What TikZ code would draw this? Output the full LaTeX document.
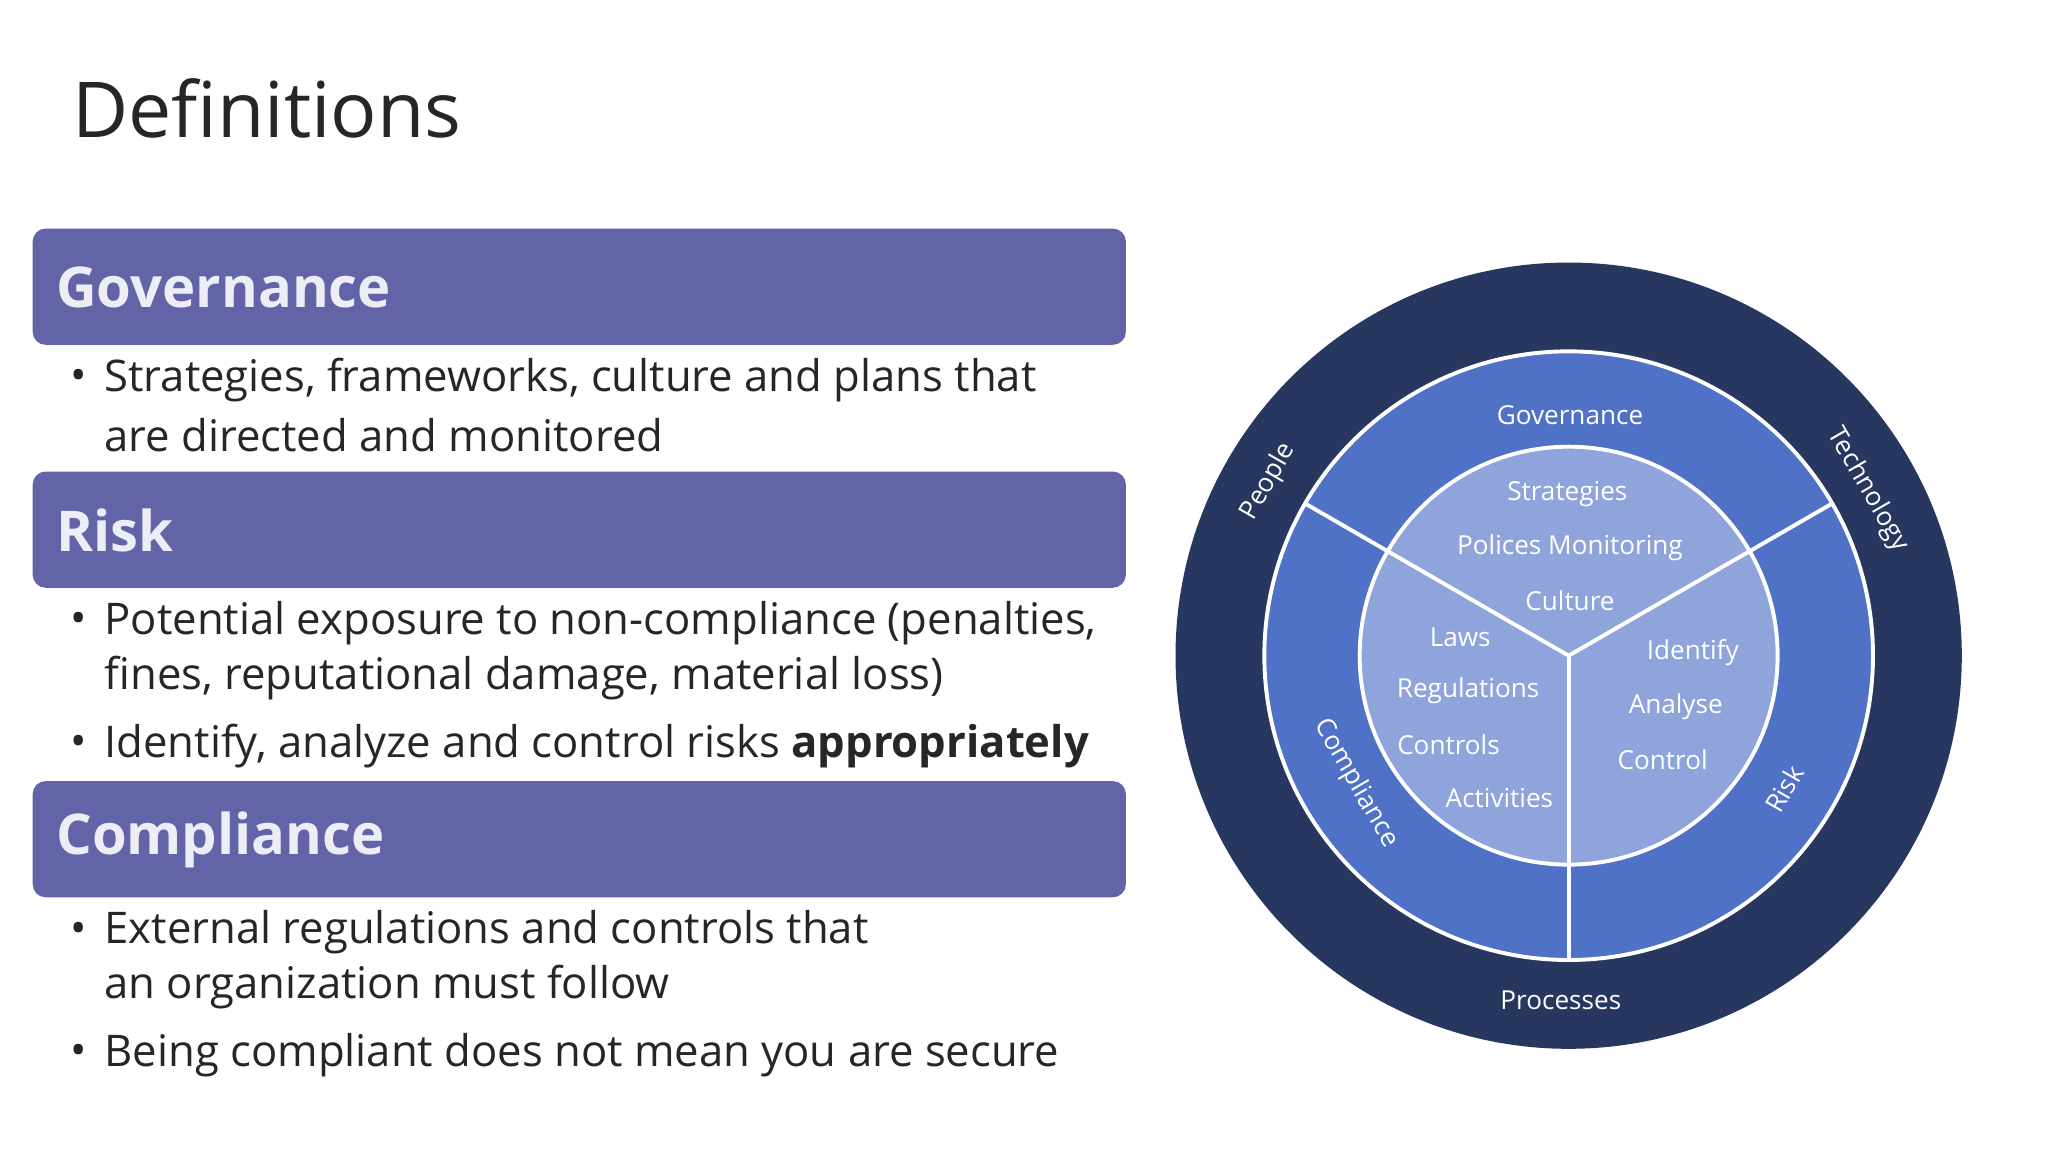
\documentclass[tikz,border=0pt]{standalone}
\usepackage{fontspec}
\setmainfont{Open Sans}
\begin{document}
\begin{tikzpicture}[x=0.5pt,y=-0.5pt,
  hdr/.style={fill=hdrc,rounded corners=5pt,draw=none},
  htxt/.style={anchor=west,text=hdrt,font=\fontsize{21.5}{26}\selectfont\bfseries},
  btxt/.style={anchor=west,text=txt,font=\fontsize{16.7}{20}\selectfont},
  bul/.style={anchor=center,text=txt,font=\fontsize{16.7}{20}\selectfont},
  lab/.style={text=white,font=\fontsize{10}{12}\selectfont},
  wl/.style={draw=white,line width=1.5pt}]
\definecolor{hdrc}{HTML}{6264A7}
\definecolor{hdrt}{HTML}{EDEDF5}
\definecolor{txt}{HTML}{262626}
\definecolor{outerc}{HTML}{283760}
\definecolor{midc}{HTML}{4F72C6}
\definecolor{innc}{HTML}{8EA4DB}
\useasboundingbox (0,0) rectangle (1568,882);
\fill[white] (0,0) rectangle (1568,882);
\node[anchor=base west,text=txt,font=\fontsize{29.5}{34}\selectfont,inner xsep=0pt] (title) at (55,105) {Definitions};
% boxes
\path[hdr] (25,175) rectangle (862,264); \node[htxt] (g) at (36,220) {Governance};
\path[hdr] (25,361) rectangle (862,450); \node[htxt] (r) at (36,406) {Risk};
\path[hdr] (25,598) rectangle (862,687); \node[htxt] (c) at (36,643) {Compliance};
% bullets
\node[bul] (b1) at (60,291) {•}; \node[btxt] (t1) at (73,291) {Strategies, frameworks, culture and plans that};
\node[btxt] (t1b) at (73,333) {are directed and monitored};
\node[bul] (b2) at (60,477) {•}; \node[btxt] (t2) at (73,477) {Potential exposure to non-compliance (penalties,};
\node[btxt] (t2b) at (73,519) {fines, reputational damage, material loss)};
\node[bul] (b3) at (60,571) {•}; \node[btxt] (t3) at (73,571) {Identify, analyze and control risks \textbf{appropriately}};
\node[bul] (b4) at (60,714) {•}; \node[btxt] (t4) at (73,714) {External regulations and controls that};
\node[btxt] (t4b) at (73,756) {an organization must follow};
\node[bul] (b5) at (60,808) {•}; \node[btxt] (t5) at (73,808) {Being compliant does not mean you are secure};
% circle
\coordinate (O) at (1201,502);
\fill[outerc] (O) circle[radius=301];
\filldraw[fill=midc,draw=white,line width=1.5pt] (O) circle[radius=233];
\filldraw[fill=innc,draw=white,line width=1.5pt] (O) circle[radius=160];
\draw[wl] (O) -- ++(150:-233);
\draw[wl] (O) -- ++(30:-233);
\draw[wl] (O) -- ++(270:-233);
% labels
\node[lab] (lg) at (1202,318) {Governance};
\node[lab,rotate=-60] (lc) at (1038,600) {Compliance};
\node[lab,rotate=60] (lr) at (1366,604) {Risk};
\node[lab,rotate=60] (lp) at (971,369) {People};
\node[lab,rotate=-60] (lt) at (1430,375) {Technology};
\node[lab] (lpr) at (1195,766) {Processes};
\node[lab] (i1) at (1200,378) {Strategies};
\node[lab] (i2) at (1202,419) {Polices Monitoring};
\node[lab] (i3) at (1202,460) {Culture};
\node[lab] (i4) at (1118,488) {Laws};
\node[lab] (i5) at (1124,529) {Regulations};
\node[lab] (i6) at (1109,570) {Controls};
\node[lab] (i7) at (1148,611) {Activities};
\node[lab] (i8) at (1296,500) {Identify};
\node[lab] (i9) at (1283,541) {Analyse};
\node[lab] (i10) at (1273,582) {Control};
\end{tikzpicture}
\end{document}
